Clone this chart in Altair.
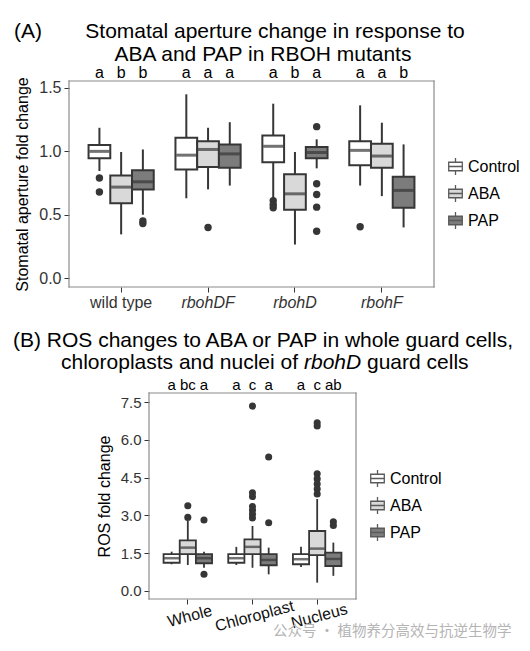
import altair as alt
import pandas as pd

treatments = ["Control", "ABA", "PAP"]
fills = ["#ffffff", "#d9d9d9", "#7c7c7c"]
line_col = "#363636"

# ---------------- Panel A data ----------------
a_groups = ["wild type", "rbohDF", "rbohD", "rbohF"]
a_q1 = [0.945, 0.59, 0.70, 0.857, 0.876, 0.87, 0.915, 0.54, 0.945, 0.89, 0.87, 0.555]
a_med = [1.00, 0.718, 0.76, 0.97, 1.015, 0.98, 1.04, 0.665, 0.99, 1.008, 0.963, 0.692]
a_q3 = [1.05, 0.81, 0.85, 1.107, 1.08, 1.055, 1.126, 0.82, 1.034, 1.08, 1.06, 0.80]
a_lo = [0.845, 0.345, 0.50, 0.63, 0.70, 0.73, 0.62, 0.265, 0.866, 0.73, 0.647, 0.40]
a_hi = [1.186, 0.995, 1.015, 1.45, 1.186, 1.23, 1.376, 0.995, 1.095, 1.363, 1.226, 1.055]
a_letters = ["a", "b", "b", "a", "a", "a", "a", "b", "a", "a", "a", "b"]
a_out_group = ["wild type", "wild type", "wild type", "wild type", "rbohDF",
               "rbohD", "rbohD", "rbohD", "rbohD", "rbohD", "rbohD", "rbohD", "rbohD", "rbohF"]
a_out_treat = ["Control", "Control", "PAP", "PAP", "ABA",
               "Control", "Control", "Control", "PAP", "PAP", "PAP", "PAP", "PAP", "Control"]
a_out_val = [0.79, 0.68, 0.45, 0.43, 0.40, 0.61, 0.58, 0.555, 1.195, 0.745, 0.66, 0.56, 0.37, 0.405]

# ---------------- Panel B data ----------------
b_groups = ["Whole", "Chloroplast", "Nucleus"]
b_q1 = [1.12, 1.46, 1.10, 1.12, 1.46, 1.02, 1.06, 1.42, 0.99]
b_med = [1.30, 1.72, 1.30, 1.30, 1.75, 1.23, 1.26, 1.68, 1.27]
b_q3 = [1.46, 2.01, 1.46, 1.46, 2.05, 1.46, 1.46, 2.38, 1.52]
b_lo = [1.06, 1.03, 0.92, 1.03, 0.92, 0.66, 0.95, 0.33, 0.60]
b_hi = [1.56, 2.78, 1.56, 1.75, 2.58, 1.72, 1.75, 3.65, 1.92]
b_letters = ["a", "bc", "a", "a", "c", "a", "a", "c", "ab"]
b_out_group = ["Whole", "Whole", "Whole", "Whole",
               "Chloroplast", "Chloroplast", "Chloroplast", "Chloroplast", "Chloroplast",
               "Chloroplast", "Chloroplast", "Chloroplast", "Chloroplast",
               "Nucleus", "Nucleus", "Nucleus", "Nucleus", "Nucleus", "Nucleus", "Nucleus",
               "Nucleus", "Nucleus"]
b_out_treat = ["ABA", "ABA", "PAP", "PAP",
               "ABA", "ABA", "ABA", "ABA", "ABA", "ABA", "ABA", "PAP", "PAP",
               "ABA", "ABA", "ABA", "ABA", "ABA", "ABA", "ABA", "PAP", "PAP"]
b_out_val = [3.38, 2.92, 2.82, 0.66,
             7.34, 3.9, 3.75, 3.35, 3.2, 3.05, 2.9, 5.32, 2.71,
             6.68, 6.55, 4.65, 4.45, 4.25, 4.05, 3.85, 2.75, 2.6]

a_df = pd.DataFrame({
    "group": [g for g in a_groups for _ in treatments],
    "treatment": treatments * len(a_groups),
    "q1": a_q1, "med": a_med, "q3": a_q3, "lo": a_lo, "hi": a_hi, "letter": a_letters,
})
a_out = pd.DataFrame({"group": a_out_group, "treatment": a_out_treat, "value": a_out_val})
b_df = pd.DataFrame({
    "group": [g for g in b_groups for _ in treatments],
    "treatment": treatments * len(b_groups),
    "q1": b_q1, "med": b_med, "q3": b_q3, "lo": b_lo, "hi": b_hi, "letter": b_letters,
})
b_out = pd.DataFrame({"group": b_out_group, "treatment": b_out_treat, "value": b_out_val})

FONT = "Liberation Sans"
glyph = "M-0.8,-0.5H0.8V0.5H-0.8Z M-0.8,0H0.8 M0,-1V-0.5 M0,0.5V1"
BORDER = "#8a8a8a"


def one(text):
    return alt.Chart(pd.DataFrame({"t": [text]}))


def build(df, out, groups, xrange, yrange, ydom, ytitle, xaxis, yaxis,
          box_stroke, med_w, med_size, pt_size, letter_size, letter_y, legx, legy):
    xs = alt.X("group:N", sort=groups, title=None,
               scale=alt.Scale(domain=groups, range=xrange,
                               paddingInner=0.25, paddingOuter=0.225), axis=xaxis)
    xo = alt.XOffset("treatment:N", sort=treatments,
                     scale=alt.Scale(domain=treatments, paddingInner=0, paddingOuter=0))
    ysc = alt.Scale(domain=ydom, range=yrange, nice=False, zero=False)
    base = alt.Chart(df)
    low = base.mark_rule(color=line_col, strokeWidth=box_stroke).encode(
        x=xs, xOffset=xo, y=alt.Y("lo:Q", scale=ysc, axis=yaxis, title=ytitle), y2="q1:Q")
    high = base.mark_rule(color=line_col, strokeWidth=box_stroke).encode(
        x=xs, xOffset=xo, y=alt.Y("q3:Q", scale=ysc), y2="hi:Q")
    box = base.mark_bar(stroke=line_col, strokeWidth=box_stroke).encode(
        x=xs, xOffset=xo, y=alt.Y("q1:Q", scale=ysc), y2="q3:Q",
        fill=alt.Fill("treatment:N", sort=treatments,
                      scale=alt.Scale(domain=treatments, range=fills),
                      legend=alt.Legend(title=None, orient="none", legendX=legx, legendY=legy,
                                        symbolType=glyph, symbolSize=289,
                                        symbolStrokeColor="#5a5a5a", symbolStrokeWidth=1.3,
                                        labelFontSize=16, labelFont=FONT, labelColor="#000000",
                                        labelOffset=3, rowPadding=4, padding=0)))
    med = base.mark_tick(color=line_col, thickness=med_w, size=med_size).encode(
        x=xs, xOffset=xo, y=alt.Y("med:Q", scale=ysc))
    pts = alt.Chart(out).mark_circle(color=line_col, opacity=1, size=pt_size).encode(
        x=xs, xOffset=xo, y=alt.Y("value:Q", scale=ysc))
    let = base.mark_text(fontSize=letter_size, font=FONT, baseline="alphabetic",
                         color="#000000").encode(
        x=xs, xOffset=xo, y=alt.value(letter_y), text="letter:N")
    return [low, high, box, med, pts, let]


def frame(x0, x1, y0, y1):
    seg = alt.Chart(pd.DataFrame({"t": [0]}))
    kw = dict(color=BORDER, strokeWidth=1.2, strokeCap="square")
    return [
        seg.mark_rule(**kw).encode(x=alt.value(x0), x2=alt.value(x1), y=alt.value(y0)),
        seg.mark_rule(**kw).encode(x=alt.value(x0), x2=alt.value(x1), y=alt.value(y1)),
        seg.mark_rule(**kw).encode(x=alt.value(x0), y=alt.value(y0), y2=alt.value(y1)),
        seg.mark_rule(**kw).encode(x=alt.value(x1), y=alt.value(y0), y2=alt.value(y1)),
    ]


def spacer(x, y):
    return alt.Chart(pd.DataFrame({"t": [0]})).mark_rule(color="white", strokeWidth=1).encode(
        x=alt.value(x), y=alt.value(y), y2=alt.value(y + 1))


# Layout (plot-area pixels): panel A occupies x 0..365, y 0..206;
# panel B occupies x 80..287, y 312..518.
AX_COMMON = dict(tickColor="#333333", titleColor="#000000",
                 titleFontWeight="normal", labelFont=FONT, titleFont=FONT, domain=False,
                 grid=False)

# ---------------- Panel A ----------------
a_xaxis = alt.Axis(orient="bottom", offset=-312, tickSize=5, labelFontSize=16, labelAngle=0,
                   labelPadding=2, labelColor="#333333",
                   labelFontStyle={"condition": {"test": "datum.value !== 'wild type'",
                                                 "value": "italic"}, "value": "normal"},
                   **AX_COMMON)
a_yaxis = alt.Axis(orient="left", offset=0, values=[0, 0.5, 1.0, 1.5], format=".1f",
                   tickSize=5, labelFontSize=16, titleFontSize=16, labelPadding=3,
                   labelColor="#333333", titlePadding=8, **AX_COMMON)
a_layers = build(a_df, a_out, a_groups, [0, 365], [206, 0], [-0.07, 1.555],
                 "Stomatal aperture fold change", a_xaxis, a_yaxis,
                 2, 3, 20, 55, 16, -3, 377, 76)
a_extra = frame(0, 365, 0, 206) + [
    one("(A)").mark_text(fontSize=21, font=FONT, align="left", baseline="alphabetic").encode(
        x=alt.value(-55), y=alt.value(-43), text="t:N"),
    one("Stomatal aperture change in response to").mark_text(
        fontSize=21, font=FONT, align="center", baseline="alphabetic").encode(
        x=alt.value(206), y=alt.value(-43), text="t:N"),
    one("ABA and PAP in RBOH mutants").mark_text(
        fontSize=21, font=FONT, align="center", baseline="alphabetic").encode(
        x=alt.value(194), y=alt.value(-20), text="t:N"),
    spacer(-59, -72),
]
panel_a = alt.layer(*a_layers, *a_extra)

# ---------------- Panel B ----------------
b_xaxis = alt.Axis(orient="bottom", offset=0, tickSize=5, labelColor="#111111",
                   labelFontSize=16, labelAngle=-15, labelAlign="center",
                   labelBaseline="top", labelPadding=4, **AX_COMMON)
b_yaxis = alt.Axis(orient="left", offset=-80, values=[0, 1.5, 3.0, 4.5, 6.0, 7.5],
                   format=".1f", tickSize=5, labelFontSize=15, titleFontSize=16,
                   labelPadding=3, labelColor="#333333", titlePadding=8, **AX_COMMON)
b_layers = build(b_df, b_out, b_groups, [80, 287], [518, 312], [-0.32, 7.86],
                 "ROS fold change", b_xaxis, b_yaxis,
                 1.8, 2.5, 15, 50, 15, 309, 299, 388)
b_extra = frame(80, 287, 312, 518) + [
    one("(B) ROS changes to ABA or PAP in whole guard cells,").mark_text(
        fontSize=21, font=FONT, align="center", baseline="alphabetic").encode(
        x=alt.value(194), y=alt.value(266), text="t:N"),
    one("chloroplasts and nuclei of").mark_text(
        fontSize=21, font=FONT, align="right", baseline="alphabetic").encode(
        x=alt.value(229), y=alt.value(288), text="t:N"),
    one("rbohD").mark_text(
        fontSize=21, font=FONT, align="left", baseline="alphabetic", fontStyle="italic").encode(
        x=alt.value(235), y=alt.value(288), text="t:N"),
    one("guard cells").mark_text(
        fontSize=21, font=FONT, align="left", baseline="alphabetic").encode(
        x=alt.value(298), y=alt.value(288), text="t:N"),
    one("公众号 · 植物养分高效与抗逆生物学").mark_text(
        fontSize=14.5, font="Noto Sans CJK SC", align="left", baseline="middle",
        color="#b4b4b4").encode(x=alt.value(204), y=alt.value(551), text="t:N"),
]
panel_b = alt.layer(*b_layers, *b_extra)

chart = alt.layer(panel_a, panel_b).resolve_scale(
    x="independent", y="independent", xOffset="independent", fill="independent"
).resolve_axis(x="independent", y="independent").resolve_legend(
    fill="independent"
).properties(
    width=365, height=518,
    padding={"left": 1, "top": 0, "right": 0, "bottom": 0}
).configure(font=FONT).configure_view(stroke="transparent", strokeWidth=0)

chart.save("out.html", embed_options={"renderer": "svg", "actions": False})
